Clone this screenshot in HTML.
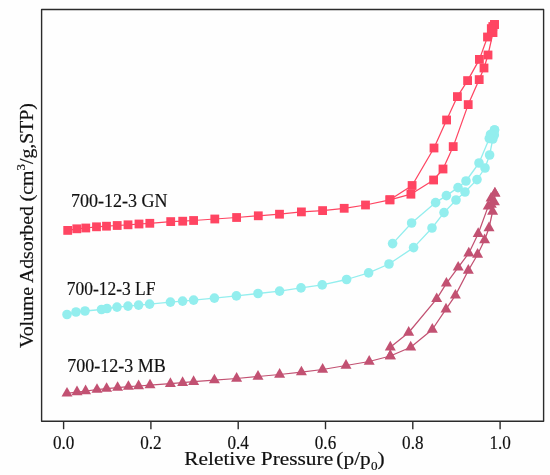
<!DOCTYPE html>
<html><head><meta charset="utf-8"><style>
html,body{margin:0;padding:0;background:#fefefe;}
body{width:550px;height:475px;overflow:hidden;}
svg{display:block;}
text{font-family:"Liberation Serif","Times New Roman",serif;fill:#111;stroke:#111;stroke-width:0.18px;}
.tk{font-size:18.2px;}
.lb{font-size:18px;}
.ax{font-size:18px;}
</style></head><body>
<svg width="550" height="475" viewBox="0 0 550 475">
<rect x="41.6" y="9.5" width="502" height="411.8" fill="none" stroke="#2b2b2b" stroke-width="1.4" stroke-linejoin="round"/>
<line x1="63.6" y1="421.3" x2="63.6" y2="429.2" stroke="#2b2b2b" stroke-width="1.4"/>
<line x1="150.9" y1="421.3" x2="150.9" y2="429.2" stroke="#2b2b2b" stroke-width="1.4"/>
<line x1="238.2" y1="421.3" x2="238.2" y2="429.2" stroke="#2b2b2b" stroke-width="1.4"/>
<line x1="325.5" y1="421.3" x2="325.5" y2="429.2" stroke="#2b2b2b" stroke-width="1.4"/>
<line x1="412.8" y1="421.3" x2="412.8" y2="429.2" stroke="#2b2b2b" stroke-width="1.4"/>
<line x1="500.1" y1="421.3" x2="500.1" y2="429.2" stroke="#2b2b2b" stroke-width="1.4"/>
<text transform="translate(63.6,448.5) scale(0.94,1)" text-anchor="middle" class="tk">0.0</text>
<text transform="translate(150.9,448.5) scale(0.94,1)" text-anchor="middle" class="tk">0.2</text>
<text transform="translate(238.2,448.5) scale(0.94,1)" text-anchor="middle" class="tk">0.4</text>
<text transform="translate(325.5,448.5) scale(0.94,1)" text-anchor="middle" class="tk">0.6</text>
<text transform="translate(412.8,448.5) scale(0.94,1)" text-anchor="middle" class="tk">0.8</text>
<text transform="translate(500.1,448.5) scale(0.94,1)" text-anchor="middle" class="tk">1.0</text>
<polyline fill="none" stroke="#ff4562" stroke-width="1.25" stroke-linejoin="round" points="67.7,230.4 76.8,228.8 85.8,228.0 96.5,226.8 106.5,226.2 117.2,225.5 128.0,224.8 139.0,224.0 149.8,223.3 170.7,221.6 182.7,221.2 193.6,220.5 214.8,219.0 236.6,217.5 258.3,215.8 279.5,214.2 301.4,211.9 322.6,210.6 344.2,208.3 365.5,205.0 389.9,199.8 410.9,194.2 433.6,180.0 443.0,169.0 453.2,146.6 468.2,104.6 479.2,79.6 484.0,68.0 488.0,55.0 493.0,32.6 494.5,24.5"/><polyline fill="none" stroke="#ff4562" stroke-width="1.25" stroke-linejoin="round" points="494.5,24.5 492.8,26.5 491.3,28.6 487.5,37.0 479.4,59.4 467.6,80.6 457.4,96.6 446.6,120.0 434.0,148.0 412.1,185.5 389.9,199.8"/>
<g fill="#ff4562"><rect x="63.3" y="226.0" width="8.8" height="8.8"/><rect x="72.4" y="224.4" width="8.8" height="8.8"/><rect x="81.4" y="223.6" width="8.8" height="8.8"/><rect x="92.1" y="222.4" width="8.8" height="8.8"/><rect x="102.1" y="221.8" width="8.8" height="8.8"/><rect x="112.8" y="221.1" width="8.8" height="8.8"/><rect x="123.6" y="220.4" width="8.8" height="8.8"/><rect x="134.6" y="219.6" width="8.8" height="8.8"/><rect x="145.4" y="218.9" width="8.8" height="8.8"/><rect x="166.3" y="217.2" width="8.8" height="8.8"/><rect x="178.3" y="216.8" width="8.8" height="8.8"/><rect x="189.2" y="216.1" width="8.8" height="8.8"/><rect x="210.4" y="214.6" width="8.8" height="8.8"/><rect x="232.2" y="213.1" width="8.8" height="8.8"/><rect x="253.9" y="211.4" width="8.8" height="8.8"/><rect x="275.1" y="209.8" width="8.8" height="8.8"/><rect x="297.0" y="207.5" width="8.8" height="8.8"/><rect x="318.2" y="206.2" width="8.8" height="8.8"/><rect x="339.8" y="203.9" width="8.8" height="8.8"/><rect x="361.1" y="200.6" width="8.8" height="8.8"/><rect x="385.5" y="195.4" width="8.8" height="8.8"/><rect x="406.5" y="189.8" width="8.8" height="8.8"/><rect x="429.2" y="175.6" width="8.8" height="8.8"/><rect x="438.6" y="164.6" width="8.8" height="8.8"/><rect x="448.8" y="142.2" width="8.8" height="8.8"/><rect x="463.8" y="100.2" width="8.8" height="8.8"/><rect x="474.8" y="75.2" width="8.8" height="8.8"/><rect x="479.6" y="63.6" width="8.8" height="8.8"/><rect x="483.6" y="50.6" width="8.8" height="8.8"/><rect x="488.6" y="28.2" width="8.8" height="8.8"/><rect x="490.1" y="20.1" width="8.8" height="8.8"/><rect x="490.1" y="20.1" width="8.8" height="8.8"/><rect x="488.4" y="22.1" width="8.8" height="8.8"/><rect x="486.9" y="24.2" width="8.8" height="8.8"/><rect x="483.1" y="32.6" width="8.8" height="8.8"/><rect x="475.0" y="55.0" width="8.8" height="8.8"/><rect x="463.2" y="76.2" width="8.8" height="8.8"/><rect x="453.0" y="92.2" width="8.8" height="8.8"/><rect x="442.2" y="115.6" width="8.8" height="8.8"/><rect x="429.6" y="143.6" width="8.8" height="8.8"/><rect x="407.7" y="181.1" width="8.8" height="8.8"/><rect x="385.5" y="195.4" width="8.8" height="8.8"/></g>
<polyline fill="none" stroke="#93eeee" stroke-width="1.3" stroke-linejoin="round" points="67.0,314.5 76.0,312.0 85.0,311.0 101.5,309.5 107.0,308.5 117.0,307.1 128.0,306.1 138.6,305.1 149.6,304.1 170.4,302.1 182.6,301.1 193.6,300.1 214.4,298.1 236.4,295.9 258.0,293.5 279.6,291.1 301.0,287.9 322.2,284.9 346.6,279.5 368.6,272.9 389.0,264.0 413.6,247.6 432.0,228.0 444.0,212.6 456.0,200.0 465.0,192.0 477.0,179.6 485.0,168.0 489.6,155.0 492.8,139.0 494.5,130.0"/><polyline fill="none" stroke="#93eeee" stroke-width="1.3" stroke-linejoin="round" points="494.5,130.0 494.3,135.0 490.5,134.5 489.3,138.5 479.0,163.0 466.0,181.0 458.0,187.6 446.4,195.6 435.6,202.6 411.6,223.0 392.6,243.6"/>
<g fill="#93eeee"><circle cx="67.0" cy="314.5" r="4.8"/><circle cx="76.0" cy="312.0" r="4.8"/><circle cx="85.0" cy="311.0" r="4.8"/><circle cx="101.5" cy="309.5" r="4.8"/><circle cx="107.0" cy="308.5" r="4.8"/><circle cx="117.0" cy="307.1" r="4.8"/><circle cx="128.0" cy="306.1" r="4.8"/><circle cx="138.6" cy="305.1" r="4.8"/><circle cx="149.6" cy="304.1" r="4.8"/><circle cx="170.4" cy="302.1" r="4.8"/><circle cx="182.6" cy="301.1" r="4.8"/><circle cx="193.6" cy="300.1" r="4.8"/><circle cx="214.4" cy="298.1" r="4.8"/><circle cx="236.4" cy="295.9" r="4.8"/><circle cx="258.0" cy="293.5" r="4.8"/><circle cx="279.6" cy="291.1" r="4.8"/><circle cx="301.0" cy="287.9" r="4.8"/><circle cx="322.2" cy="284.9" r="4.8"/><circle cx="346.6" cy="279.5" r="4.8"/><circle cx="368.6" cy="272.9" r="4.8"/><circle cx="389.0" cy="264.0" r="4.8"/><circle cx="413.6" cy="247.6" r="4.8"/><circle cx="432.0" cy="228.0" r="4.8"/><circle cx="444.0" cy="212.6" r="4.8"/><circle cx="456.0" cy="200.0" r="4.8"/><circle cx="465.0" cy="192.0" r="4.8"/><circle cx="477.0" cy="179.6" r="4.8"/><circle cx="485.0" cy="168.0" r="4.8"/><circle cx="489.6" cy="155.0" r="4.8"/><circle cx="492.8" cy="139.0" r="4.8"/><circle cx="494.5" cy="130.0" r="4.8"/><circle cx="494.5" cy="130.0" r="4.8"/><circle cx="494.3" cy="135.0" r="4.8"/><circle cx="490.5" cy="134.5" r="4.8"/><circle cx="489.3" cy="138.5" r="4.8"/><circle cx="479.0" cy="163.0" r="4.8"/><circle cx="466.0" cy="181.0" r="4.8"/><circle cx="458.0" cy="187.6" r="4.8"/><circle cx="446.4" cy="195.6" r="4.8"/><circle cx="435.6" cy="202.6" r="4.8"/><circle cx="411.6" cy="223.0" r="4.8"/><circle cx="392.6" cy="243.6" r="4.8"/></g>
<polyline fill="none" stroke="#c25172" stroke-width="1.25" stroke-linejoin="round" points="67.0,393.4 77.0,392.0 85.6,391.0 97.0,389.6 106.6,388.6 117.6,387.6 128.4,386.6 138.6,386.0 150.0,385.1 170.4,383.7 182.6,382.7 193.6,381.7 214.4,380.1 236.6,378.5 258.0,376.5 279.6,374.5 301.4,372.1 322.6,369.5 346.0,365.5 369.2,361.5 390.3,356.0 410.7,347.2 432.3,329.5 446.0,309.2 455.4,295.4 468.3,270.5 477.6,254.5 484.6,240.0 489.0,228.0 492.6,211.5 494.4,202.1 494.9,193.4"/><polyline fill="none" stroke="#c25172" stroke-width="1.25" stroke-linejoin="round" points="494.9,193.4 491.1,198.4 491.3,204.5 488.2,206.4 478.2,233.7 468.8,253.2 458.2,267.3 446.4,283.3 436.7,298.9 408.7,332.5 390.3,347.2 390.3,356.0"/>
<g fill="#c25172"><path d="M67.0 387.0L72.5 396.6L61.5 396.6Z"/><path d="M77.0 385.6L82.5 395.2L71.5 395.2Z"/><path d="M85.6 384.6L91.1 394.2L80.1 394.2Z"/><path d="M97.0 383.2L102.5 392.8L91.5 392.8Z"/><path d="M106.6 382.2L112.1 391.8L101.1 391.8Z"/><path d="M117.6 381.2L123.1 390.8L112.1 390.8Z"/><path d="M128.4 380.2L133.9 389.8L122.9 389.8Z"/><path d="M138.6 379.6L144.1 389.2L133.1 389.2Z"/><path d="M150.0 378.7L155.5 388.3L144.5 388.3Z"/><path d="M170.4 377.3L175.9 386.9L164.9 386.9Z"/><path d="M182.6 376.3L188.1 385.9L177.1 385.9Z"/><path d="M193.6 375.3L199.1 384.9L188.1 384.9Z"/><path d="M214.4 373.7L219.9 383.3L208.9 383.3Z"/><path d="M236.6 372.1L242.1 381.7L231.1 381.7Z"/><path d="M258.0 370.1L263.5 379.7L252.5 379.7Z"/><path d="M279.6 368.1L285.1 377.7L274.1 377.7Z"/><path d="M301.4 365.7L306.9 375.3L295.9 375.3Z"/><path d="M322.6 363.1L328.1 372.7L317.1 372.7Z"/><path d="M346.0 359.1L351.5 368.7L340.5 368.7Z"/><path d="M369.2 355.1L374.7 364.7L363.7 364.7Z"/><path d="M390.3 349.6L395.8 359.2L384.8 359.2Z"/><path d="M410.7 340.8L416.2 350.4L405.2 350.4Z"/><path d="M432.3 323.1L437.8 332.7L426.8 332.7Z"/><path d="M446.0 302.8L451.5 312.4L440.5 312.4Z"/><path d="M455.4 289.0L460.9 298.6L449.9 298.6Z"/><path d="M468.3 264.1L473.8 273.7L462.8 273.7Z"/><path d="M477.6 248.1L483.1 257.7L472.1 257.7Z"/><path d="M484.6 233.6L490.1 243.2L479.1 243.2Z"/><path d="M489.0 221.6L494.5 231.2L483.5 231.2Z"/><path d="M492.6 205.1L498.1 214.7L487.1 214.7Z"/><path d="M494.4 195.7L499.9 205.3L488.9 205.3Z"/><path d="M494.9 187.0L500.4 196.6L489.4 196.6Z"/><path d="M494.9 187.0L500.4 196.6L489.4 196.6Z"/><path d="M491.1 192.0L496.6 201.6L485.6 201.6Z"/><path d="M491.3 198.1L496.8 207.7L485.8 207.7Z"/><path d="M488.2 200.0L493.7 209.6L482.7 209.6Z"/><path d="M478.2 227.3L483.7 236.9L472.7 236.9Z"/><path d="M468.8 246.8L474.3 256.4L463.3 256.4Z"/><path d="M458.2 260.9L463.7 270.5L452.7 270.5Z"/><path d="M446.4 276.9L451.9 286.5L440.9 286.5Z"/><path d="M436.7 292.5L442.2 302.1L431.2 302.1Z"/><path d="M408.7 326.1L414.2 335.7L403.2 335.7Z"/><path d="M390.3 340.8L395.8 350.4L384.8 350.4Z"/><path d="M390.3 349.6L395.8 359.2L384.8 359.2Z"/></g>
<text x="71" y="206.5" class="lb">700-12-3 GN</text>
<text transform="translate(66.8,294.5) scale(0.97,1)" class="lb">700-12-3 LF</text>
<text x="67.3" y="372" class="lb">700-12-3 MB</text>
<text transform="translate(184.3,465) scale(1.155,1)" class="ax" style="font-size:18.5px">Reletive Pressure <tspan dx="-1.8">(p/p</tspan></text>
<text x="370.9" y="469.7" class="ax" style="font-size:13.2px">0</text>
<text transform="translate(377.6,465) scale(1.155,1)" class="ax" style="font-size:18.5px">)</text>
<text transform="translate(33.3,225.6) rotate(-90) scale(1.07,1)" style="font-size:18.5px" text-anchor="middle" class="ax">Volume Adsorbed (cm<tspan baseline-shift="8.5" font-size="12">3</tspan>/g,STP)</text>
</svg>
</body></html>
